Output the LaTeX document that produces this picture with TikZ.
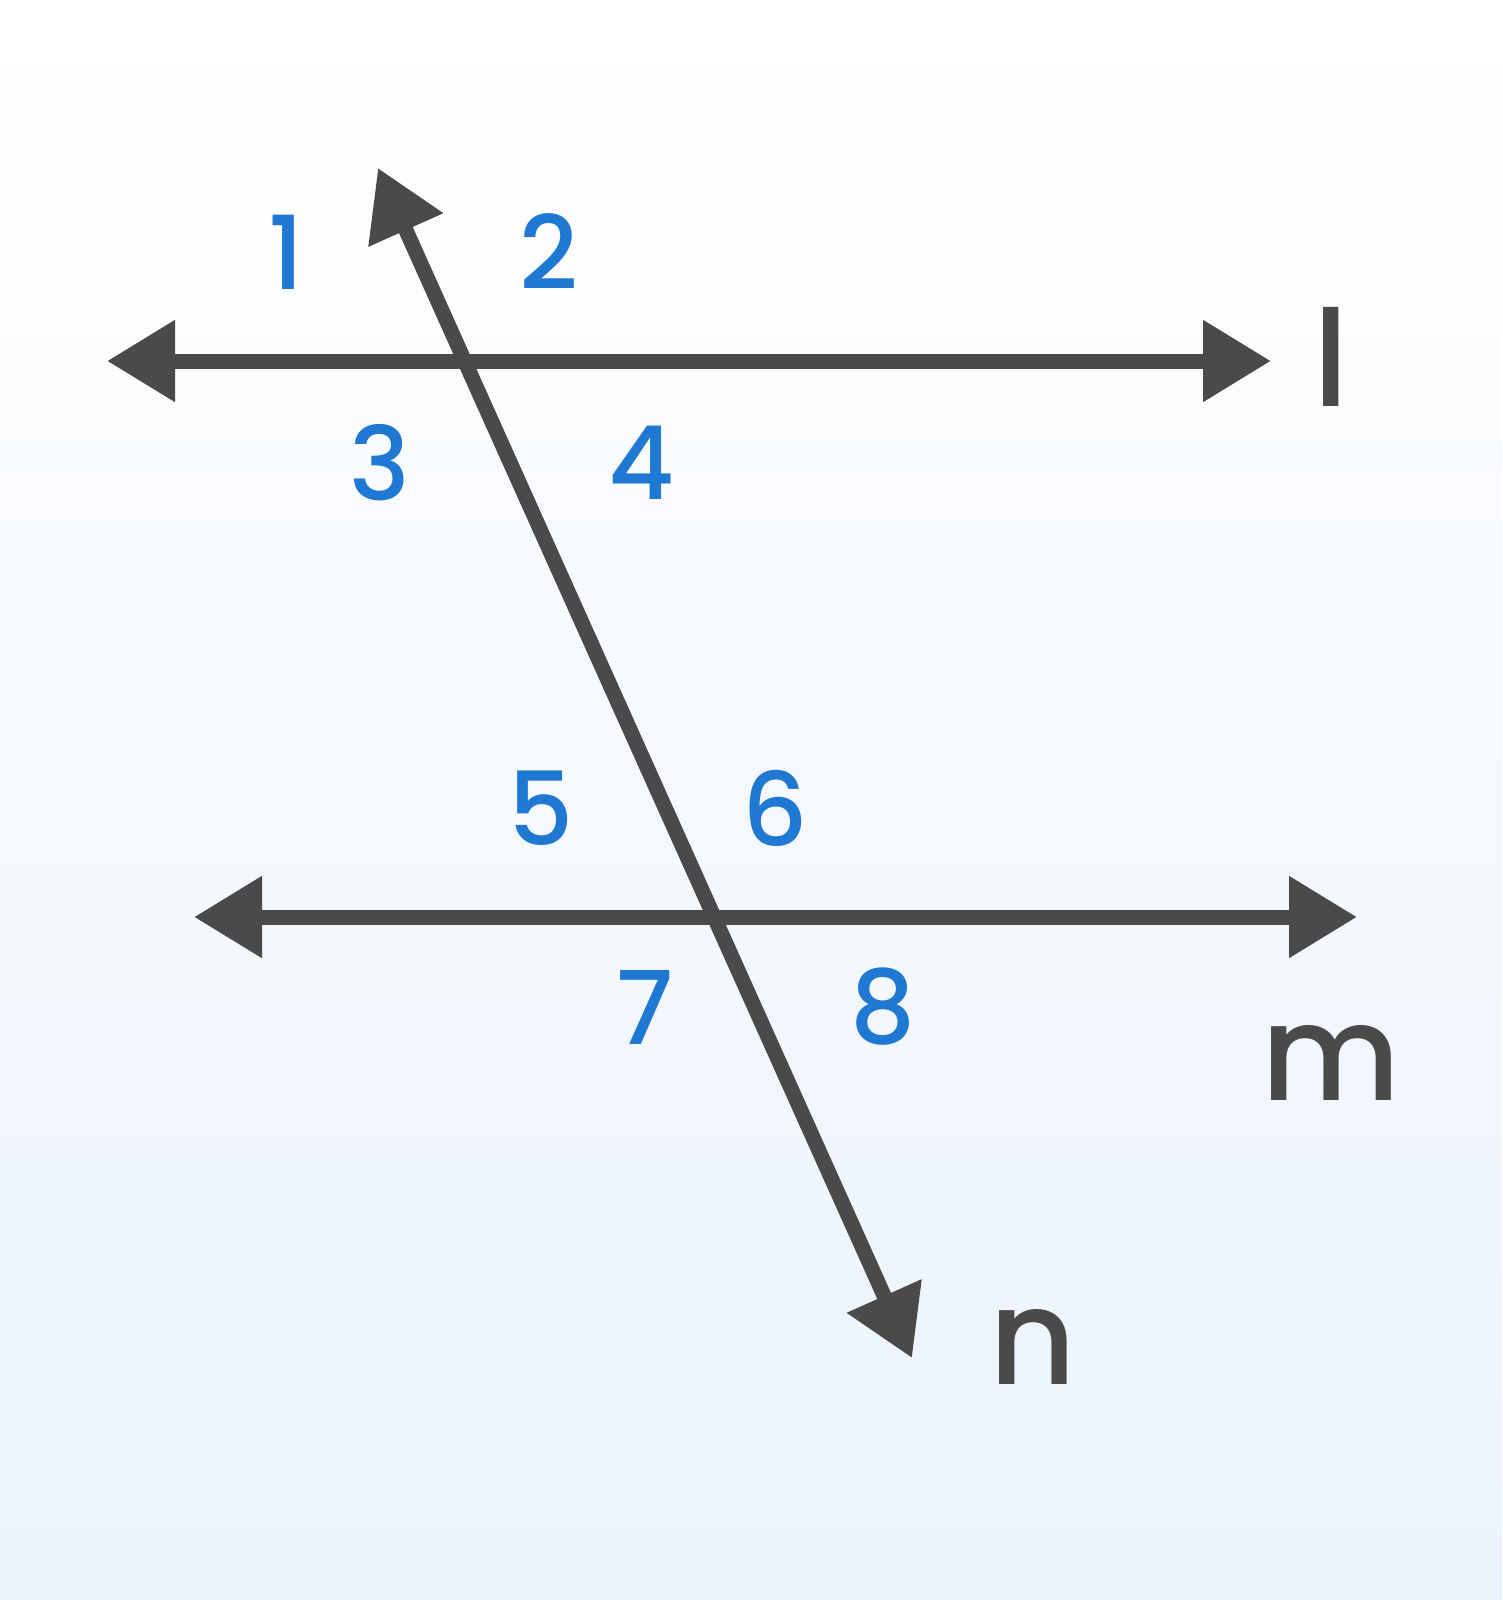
\documentclass[tikz,border=0pt]{standalone}
\usepackage{fontspec}
\setmainfont{Poppins}
\newfontfamily\digfont{Poppins Medium}
\newfontfamily\letfont{Poppins Medium}
\usetikzlibrary{arrows.meta}
\definecolor{linegray}{HTML}{4A4A4A}
\definecolor{numblue}{HTML}{1F78D1}
\definecolor{bgbot}{HTML}{EBF3FC}
\begin{document}
\begin{tikzpicture}[x=1pt,y=-1pt,
  lineray/.style={draw=linegray, line width=15pt,
    {Triangle[length=68pt,width=78pt]}-{Triangle[length=68pt,width=78pt]}},
  anglenum/.style={text=numblue, inner sep=0pt, font=\digfont\fontsize{102}{102}\selectfont},
  linename/.style={text=linegray, inner sep=0pt, font=\letfont\fontsize{134}{134}\selectfont}]
\shade[top color=white, bottom color=bgbot] (0,0) rectangle (1502,1600);
\useasboundingbox (0,0) rectangle (1502,1600);
% end points
\coordinate (lL) at (107,361);
\coordinate (lR) at (1271,361);
\coordinate (mL) at (194,917);
\coordinate (mR) at (1357,917);
\coordinate (nT) at (378,168);
\coordinate (nB) at (912,1358);
\draw[lineray] (lL) -- (lR);
\draw[lineray] (mL) -- (mR);
\draw[lineray] (nT) -- (nB);
% angle numbers
\node[anglenum] (a1) at (286,252) {1};
\node[anglenum] (a2) at (549,252) {2};
\node[anglenum] (a3) at (380,463) {3};
\node[anglenum] (a4) at (641,463) {4};
\node[anglenum] (a5) at (541,808) {5};
\node[anglenum] (a6) at (775,808) {6};
\node[anglenum] (a7) at (645,1007) {7};
\node[anglenum] (a8) at (883,1007) {8};
% line names
\node[linename] (ll) at (1331,357) {l};
\node[linename] (lm) at (1331,1063) {m};
\node[linename] (ln) at (1033,1347) {n};
\end{tikzpicture}
\end{document}
